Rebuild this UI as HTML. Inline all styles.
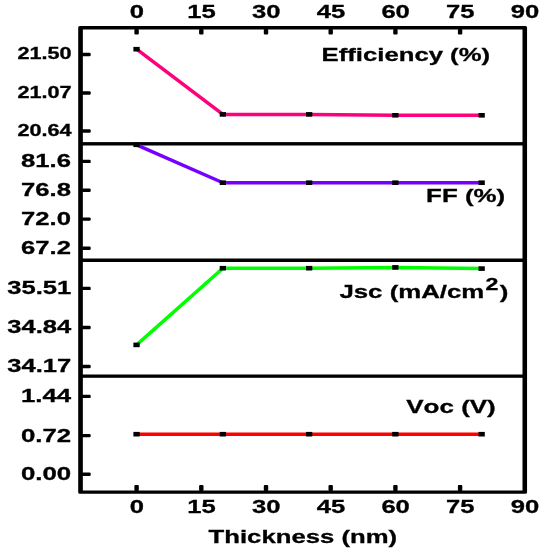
<!DOCTYPE html>
<html><head><meta charset="utf-8"><title>Thickness chart</title>
<style>html,body{margin:0;padding:0;background:#fff}svg{display:block}text{font-kerning:none;font-variant-ligatures:none;stroke:#000;stroke-width:0.3px;font-family:"Liberation Sans",Arial,Helvetica,sans-serif;font-weight:bold;fill:#000}</style></head><body>
<svg width="544" height="550" viewBox="0 0 544 550">
<rect width="544" height="550" fill="#fff"/>
<rect x="81" y="142.1" width="444" height="3.4" fill="#000"/>
<rect x="81" y="258.5" width="444" height="3.5" fill="#000"/>
<rect x="81" y="374.5" width="444" height="3.3" fill="#000"/>
<polyline points="136.6,49.2 222.9,114.4 309.1,114.4 395.4,115.3 481.6,115.3" fill="none" stroke="#ff007c" stroke-width="3.5" stroke-linejoin="round"/>
<rect x="133.4" y="46.9" width="6.3" height="4.6" fill="#000"/>
<rect x="219.7" y="112.1" width="6.3" height="4.6" fill="#000"/>
<rect x="306.0" y="112.1" width="6.3" height="4.6" fill="#000"/>
<rect x="392.2" y="113.0" width="6.3" height="4.6" fill="#000"/>
<rect x="478.5" y="113.0" width="6.3" height="4.6" fill="#000"/>
<polyline points="136.6,144.8 222.9,182.75 309.1,182.75 395.4,182.75 481.6,182.75" fill="none" stroke="#7600ff" stroke-width="3.5" stroke-linejoin="round"/>
<rect x="133.4" y="142.5" width="6.3" height="4.6" fill="#000"/>
<rect x="219.7" y="180.4" width="6.3" height="4.6" fill="#000"/>
<rect x="306.0" y="180.4" width="6.3" height="4.6" fill="#000"/>
<rect x="392.2" y="180.4" width="6.3" height="4.6" fill="#000"/>
<rect x="478.5" y="180.4" width="6.3" height="4.6" fill="#000"/>
<polyline points="136.6,344.9 222.9,268.2 309.1,268.2 395.4,267.4 481.6,268.6" fill="none" stroke="#00ff00" stroke-width="3.5" stroke-linejoin="round"/>
<rect x="133.4" y="342.6" width="6.3" height="4.6" fill="#000"/>
<rect x="219.7" y="265.9" width="6.3" height="4.6" fill="#000"/>
<rect x="306.0" y="265.9" width="6.3" height="4.6" fill="#000"/>
<rect x="392.2" y="265.1" width="6.3" height="4.6" fill="#000"/>
<rect x="478.5" y="266.3" width="6.3" height="4.6" fill="#000"/>
<polyline points="136.6,434.25 222.9,434.25 309.1,434.25 395.4,434.25 481.6,434.25" fill="none" stroke="#ff0000" stroke-width="3.5" stroke-linejoin="round"/>
<rect x="133.4" y="431.9" width="6.3" height="4.6" fill="#000"/>
<rect x="219.7" y="431.9" width="6.3" height="4.6" fill="#000"/>
<rect x="306.0" y="431.9" width="6.3" height="4.6" fill="#000"/>
<rect x="392.2" y="431.9" width="6.3" height="4.6" fill="#000"/>
<rect x="478.5" y="431.9" width="6.3" height="4.6" fill="#000"/>
<path fill="#000" fill-rule="evenodd" d="M79.8,25.9H525.4499999999999Q527.05,25.9 527.05,27.5V492.2Q527.05,493.8 525.4499999999999,493.8H79.8Q78.2,493.8 78.2,492.2V27.5Q78.2,25.9 79.8,25.9Z M82.85,29.5V490.4H522.5V29.5Z"/>
<rect x="134.4" y="29" width="4.4" height="5.5" rx="1" fill="#000"/>
<rect x="134.4" y="485.1" width="4.4" height="6" rx="1" fill="#000"/>
<rect x="199.1" y="29" width="4.4" height="5.5" rx="1" fill="#000"/>
<rect x="199.1" y="485.1" width="4.4" height="6" rx="1" fill="#000"/>
<rect x="263.8" y="29" width="4.4" height="5.5" rx="1" fill="#000"/>
<rect x="263.8" y="485.1" width="4.4" height="6" rx="1" fill="#000"/>
<rect x="328.5" y="29" width="4.4" height="5.5" rx="1" fill="#000"/>
<rect x="328.5" y="485.1" width="4.4" height="6" rx="1" fill="#000"/>
<rect x="393.2" y="29" width="4.4" height="5.5" rx="1" fill="#000"/>
<rect x="393.2" y="485.1" width="4.4" height="6" rx="1" fill="#000"/>
<rect x="457.9" y="29" width="4.4" height="5.5" rx="1" fill="#000"/>
<rect x="457.9" y="485.1" width="4.4" height="6" rx="1" fill="#000"/>
<rect x="82" y="52.8" width="8.7" height="3.4" rx="1.2" fill="#000"/>
<text transform="translate(71.6,59.3) scale(1.38,1)" font-size="15.7" text-anchor="end">21.50</text>
<rect x="82" y="91.3" width="8.7" height="3.4" rx="1.2" fill="#000"/>
<text transform="translate(71.6,97.8) scale(1.38,1)" font-size="15.7" text-anchor="end">21.07</text>
<rect x="82" y="129.3" width="8.7" height="3.4" rx="1.2" fill="#000"/>
<text transform="translate(71.6,135.8) scale(1.38,1)" font-size="15.7" text-anchor="end">20.64</text>
<rect x="82" y="159.7" width="8.7" height="3.4" rx="1.2" fill="#000"/>
<text transform="translate(71.0,167.0) scale(1.35,1)" font-size="19.0" text-anchor="end">81.6</text>
<rect x="82" y="188.5" width="8.7" height="3.4" rx="1.2" fill="#000"/>
<text transform="translate(71.0,195.8) scale(1.35,1)" font-size="19.0" text-anchor="end">76.8</text>
<rect x="82" y="217.4" width="8.7" height="3.4" rx="1.2" fill="#000"/>
<text transform="translate(71.0,224.7) scale(1.35,1)" font-size="19.0" text-anchor="end">72.0</text>
<rect x="82" y="246.5" width="8.7" height="3.4" rx="1.2" fill="#000"/>
<text transform="translate(71.0,253.8) scale(1.35,1)" font-size="19.0" text-anchor="end">67.2</text>
<rect x="82" y="286.7" width="8.7" height="3.4" rx="1.2" fill="#000"/>
<text transform="translate(71.3,293.9) scale(1.39,1)" font-size="18.4" text-anchor="end">35.51</text>
<rect x="82" y="325.8" width="8.7" height="3.4" rx="1.2" fill="#000"/>
<text transform="translate(71.3,333.0) scale(1.39,1)" font-size="18.4" text-anchor="end">34.84</text>
<rect x="82" y="364.8" width="8.7" height="3.4" rx="1.2" fill="#000"/>
<text transform="translate(71.3,372.0) scale(1.39,1)" font-size="18.4" text-anchor="end">34.17</text>
<rect x="82" y="394.7" width="8.7" height="3.4" rx="1.2" fill="#000"/>
<text transform="translate(71.2,402.3) scale(1.41,1)" font-size="18.3" text-anchor="end">1.44</text>
<rect x="82" y="433.9" width="8.7" height="3.4" rx="1.2" fill="#000"/>
<text transform="translate(71.2,441.5) scale(1.41,1)" font-size="18.3" text-anchor="end">0.72</text>
<rect x="82" y="472.5" width="8.7" height="3.4" rx="1.2" fill="#000"/>
<text transform="translate(71.2,480.1) scale(1.41,1)" font-size="18.3" text-anchor="end">0.00</text>
<text transform="translate(136.8,17.9) scale(1.36,1)" font-size="18.8" text-anchor="middle">0</text>
<text transform="translate(136.8,513.0) scale(1.36,1)" font-size="18.8" text-anchor="middle">0</text>
<text transform="translate(201.5,17.9) scale(1.36,1)" font-size="18.8" text-anchor="middle">15</text>
<text transform="translate(201.5,513.0) scale(1.36,1)" font-size="18.8" text-anchor="middle">15</text>
<text transform="translate(266.2,17.9) scale(1.36,1)" font-size="18.8" text-anchor="middle">30</text>
<text transform="translate(266.2,513.0) scale(1.36,1)" font-size="18.8" text-anchor="middle">30</text>
<text transform="translate(330.9,17.9) scale(1.36,1)" font-size="18.8" text-anchor="middle">45</text>
<text transform="translate(330.9,513.0) scale(1.36,1)" font-size="18.8" text-anchor="middle">45</text>
<text transform="translate(395.6,17.9) scale(1.36,1)" font-size="18.8" text-anchor="middle">60</text>
<text transform="translate(395.6,513.0) scale(1.36,1)" font-size="18.8" text-anchor="middle">60</text>
<text transform="translate(460.3,17.9) scale(1.36,1)" font-size="18.8" text-anchor="middle">75</text>
<text transform="translate(460.3,513.0) scale(1.36,1)" font-size="18.8" text-anchor="middle">75</text>
<text transform="translate(525.0,17.9) scale(1.36,1)" font-size="18.8" text-anchor="middle">90</text>
<text transform="translate(525.0,513.0) scale(1.36,1)" font-size="18.8" text-anchor="middle">90</text>
<text transform="translate(321.6,60.800000000000004) scale(1.374,1)" font-size="18.7">Efficiency (%)</text>
<text transform="translate(426.1,202.1) scale(1.384,1)" font-size="18.7">FF (%)</text>
<text transform="translate(339.40000000000003,298.0) scale(1.381,1)" font-size="18.7">Jsc (mA/cm<tspan font-size="16.8" dx="0.85" dy="-8.4">2</tspan><tspan dx="1" dy="8.4">)</tspan></text>
<text transform="translate(406.3,413.20000000000005) scale(1.39,1)" font-size="18.7">Voc (V)</text>
<text transform="translate(208.6,543.3000000000001) scale(1.374,1)" font-size="18.7">Thickness (nm)</text>
</svg>
</body></html>
